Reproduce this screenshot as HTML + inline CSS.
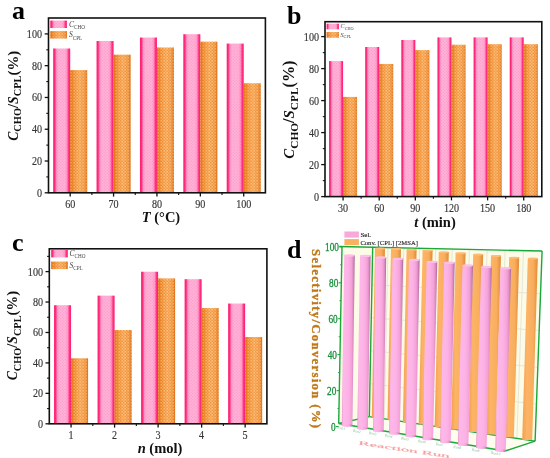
<!DOCTYPE html>
<html><head><meta charset="utf-8"><style>
html,body{margin:0;padding:0;background:#fff;}
body{width:550px;height:458px;overflow:hidden;}
svg{display:block;font-family:"Liberation Serif", serif;filter:blur(0.4px);}
</style></head><body>
<svg width="550" height="458" viewBox="0 0 550 458">
<defs>
<linearGradient id="pinkG" x1="0" y1="0" x2="1" y2="0">
<stop offset="0" stop-color="#ff1a6c"/><stop offset="0.09" stop-color="#ff2a7a"/><stop offset="0.2" stop-color="#ff9ccb"/><stop offset="0.32" stop-color="#ffb4d9"/><stop offset="0.68" stop-color="#ffb4d9"/><stop offset="0.8" stop-color="#ff9ccb"/><stop offset="0.91" stop-color="#ff3080"/><stop offset="1" stop-color="#ff1a6c"/>
</linearGradient>
<pattern id="pinkP" width="3" height="3" patternUnits="userSpaceOnUse">
<circle cx="0.75" cy="0.75" r="0.75" fill="#ff3d87" opacity="0.2"/><circle cx="2.25" cy="2.25" r="0.75" fill="#ff3d87" opacity="0.2"/>
</pattern>
<linearGradient id="orgG" x1="0" y1="0" x2="1" y2="0">
<stop offset="0" stop-color="#e06810"/><stop offset="0.1" stop-color="#ec8228"/><stop offset="0.3" stop-color="#f8a24e"/><stop offset="0.55" stop-color="#fdb66c"/><stop offset="0.85" stop-color="#f4a252"/><stop offset="1" stop-color="#dc6c14"/>
</linearGradient>
<pattern id="orgP" width="3" height="3" patternUnits="userSpaceOnUse">
<rect width="1.5" height="1.5" fill="#e27818" opacity="0.4"/><rect x="1.5" y="1.5" width="1.5" height="1.5" fill="#e27818" opacity="0.4"/><rect x="1.5" width="1.5" height="1.5" fill="#ffd6a6" opacity="0.35"/>
</pattern>
<linearGradient id="dPink" x1="0" y1="0" x2="1" y2="0">
<stop offset="0" stop-color="#e49ac8"/><stop offset="0.12" stop-color="#ffb8ea"/><stop offset="0.5" stop-color="#fcb2e4"/><stop offset="0.74" stop-color="#f5a2d8"/><stop offset="0.87" stop-color="#dc8cc4"/><stop offset="1" stop-color="#aa6898"/>
</linearGradient>
<linearGradient id="dOrg" x1="0" y1="0" x2="1" y2="0">
<stop offset="0" stop-color="#f3a050"/><stop offset="0.3" stop-color="#fcb466"/><stop offset="0.7" stop-color="#f9ae5e"/><stop offset="1" stop-color="#e08a36"/>
</linearGradient>
</defs>
<rect width="550" height="458" fill="#fff"/>

<rect x="53.19" y="48.52" width="17.00" height="144.28" fill="url(#pinkG)"/>
<rect x="53.19" y="48.52" width="17.00" height="144.28" fill="url(#pinkP)"/>
<rect x="70.19" y="70.13" width="17.00" height="122.67" fill="url(#orgG)"/>
<rect x="70.19" y="70.13" width="17.00" height="122.67" fill="url(#orgP)"/>
<rect x="96.57" y="41.05" width="17.00" height="151.75" fill="url(#pinkG)"/>
<rect x="96.57" y="41.05" width="17.00" height="151.75" fill="url(#pinkP)"/>
<rect x="113.57" y="54.72" width="17.00" height="138.08" fill="url(#orgG)"/>
<rect x="113.57" y="54.72" width="17.00" height="138.08" fill="url(#orgP)"/>
<rect x="139.95" y="37.55" width="17.00" height="155.25" fill="url(#pinkG)"/>
<rect x="139.95" y="37.55" width="17.00" height="155.25" fill="url(#pinkP)"/>
<rect x="156.95" y="47.57" width="17.00" height="145.23" fill="url(#orgG)"/>
<rect x="156.95" y="47.57" width="17.00" height="145.23" fill="url(#orgP)"/>
<rect x="183.33" y="34.22" width="17.00" height="158.58" fill="url(#pinkG)"/>
<rect x="183.33" y="34.22" width="17.00" height="158.58" fill="url(#pinkP)"/>
<rect x="200.33" y="41.69" width="17.00" height="151.11" fill="url(#orgG)"/>
<rect x="200.33" y="41.69" width="17.00" height="151.11" fill="url(#orgP)"/>
<rect x="226.71" y="43.59" width="17.00" height="149.21" fill="url(#pinkG)"/>
<rect x="226.71" y="43.59" width="17.00" height="149.21" fill="url(#pinkP)"/>
<rect x="243.71" y="83.32" width="17.00" height="109.48" fill="url(#orgG)"/>
<rect x="243.71" y="83.32" width="17.00" height="109.48" fill="url(#orgP)"/>
<rect x="50.3" y="20.6" width="16.6" height="7.4" fill="url(#pinkG)"/><rect x="50.3" y="20.6" width="16.6" height="7.4" fill="url(#pinkP)"/>
<rect x="50.3" y="31.1" width="16.6" height="7.4" fill="url(#orgG)"/><rect x="50.3" y="31.1" width="16.6" height="7.4" fill="url(#orgP)"/>
<text x="69" y="26.8" font-size="7.6" fill="#444"><tspan font-style="italic">C</tspan><tspan font-size="5.17" dy="2.28">CHO</tspan></text>
<text x="69" y="37.3" font-size="7.6" fill="#444"><tspan font-style="italic">S</tspan><tspan font-size="5.17" dy="2.28">CPL</tspan></text>
<rect x="48.5" y="18" width="216.89999999999998" height="174.8" fill="none" stroke="#111" stroke-width="1.6"/>
<line x1="44.7" y1="192.80" x2="48.5" y2="192.80" stroke="#111" stroke-width="1.3"/>
<text x="42" y="196.70" font-size="11.5" fill="#333" stroke="#333" stroke-width="0.15" text-anchor="end" textLength="5.05" lengthAdjust="spacingAndGlyphs">0</text>
<line x1="46.3" y1="176.91" x2="48.5" y2="176.91" stroke="#111" stroke-width="1.1"/>
<line x1="44.7" y1="161.02" x2="48.5" y2="161.02" stroke="#111" stroke-width="1.3"/>
<text x="42" y="164.92" font-size="11.5" fill="#333" stroke="#333" stroke-width="0.15" text-anchor="end" textLength="10.10" lengthAdjust="spacingAndGlyphs">20</text>
<line x1="46.3" y1="145.13" x2="48.5" y2="145.13" stroke="#111" stroke-width="1.1"/>
<line x1="44.7" y1="129.24" x2="48.5" y2="129.24" stroke="#111" stroke-width="1.3"/>
<text x="42" y="133.14" font-size="11.5" fill="#333" stroke="#333" stroke-width="0.15" text-anchor="end" textLength="10.10" lengthAdjust="spacingAndGlyphs">40</text>
<line x1="46.3" y1="113.35" x2="48.5" y2="113.35" stroke="#111" stroke-width="1.1"/>
<line x1="44.7" y1="97.46" x2="48.5" y2="97.46" stroke="#111" stroke-width="1.3"/>
<text x="42" y="101.36" font-size="11.5" fill="#333" stroke="#333" stroke-width="0.15" text-anchor="end" textLength="10.10" lengthAdjust="spacingAndGlyphs">60</text>
<line x1="46.3" y1="81.57" x2="48.5" y2="81.57" stroke="#111" stroke-width="1.1"/>
<line x1="44.7" y1="65.68" x2="48.5" y2="65.68" stroke="#111" stroke-width="1.3"/>
<text x="42" y="69.58" font-size="11.5" fill="#333" stroke="#333" stroke-width="0.15" text-anchor="end" textLength="10.10" lengthAdjust="spacingAndGlyphs">80</text>
<line x1="46.3" y1="49.79" x2="48.5" y2="49.79" stroke="#111" stroke-width="1.1"/>
<line x1="44.7" y1="33.90" x2="48.5" y2="33.90" stroke="#111" stroke-width="1.3"/>
<text x="42" y="37.80" font-size="11.5" fill="#333" stroke="#333" stroke-width="0.15" text-anchor="end" textLength="15.15" lengthAdjust="spacingAndGlyphs">100</text>
<line x1="70.19" y1="192.8" x2="70.19" y2="196.60000000000002" stroke="#111" stroke-width="1.3"/>
<text x="70.19" y="208" font-size="11.5" fill="#333" stroke="#333" stroke-width="0.15" text-anchor="middle" textLength="10.10" lengthAdjust="spacingAndGlyphs">60</text>
<line x1="113.57" y1="192.8" x2="113.57" y2="196.60000000000002" stroke="#111" stroke-width="1.3"/>
<text x="113.57" y="208" font-size="11.5" fill="#333" stroke="#333" stroke-width="0.15" text-anchor="middle" textLength="10.10" lengthAdjust="spacingAndGlyphs">70</text>
<line x1="91.88" y1="192.8" x2="91.88" y2="195.0" stroke="#111" stroke-width="1.1"/>
<line x1="156.95" y1="192.8" x2="156.95" y2="196.60000000000002" stroke="#111" stroke-width="1.3"/>
<text x="156.95" y="208" font-size="11.5" fill="#333" stroke="#333" stroke-width="0.15" text-anchor="middle" textLength="10.10" lengthAdjust="spacingAndGlyphs">80</text>
<line x1="135.26" y1="192.8" x2="135.26" y2="195.0" stroke="#111" stroke-width="1.1"/>
<line x1="200.33" y1="192.8" x2="200.33" y2="196.60000000000002" stroke="#111" stroke-width="1.3"/>
<text x="200.33" y="208" font-size="11.5" fill="#333" stroke="#333" stroke-width="0.15" text-anchor="middle" textLength="10.10" lengthAdjust="spacingAndGlyphs">90</text>
<line x1="178.64" y1="192.8" x2="178.64" y2="195.0" stroke="#111" stroke-width="1.1"/>
<line x1="243.71" y1="192.8" x2="243.71" y2="196.60000000000002" stroke="#111" stroke-width="1.3"/>
<text x="243.71" y="208" font-size="11.5" fill="#333" stroke="#333" stroke-width="0.15" text-anchor="middle" textLength="15.15" lengthAdjust="spacingAndGlyphs">100</text>
<line x1="222.02" y1="192.8" x2="222.02" y2="195.0" stroke="#111" stroke-width="1.1"/>
<text x="12" y="18.5" font-size="26" font-weight="bold" fill="#000">a</text>
<text x="161" y="221.5" font-size="14.5" font-weight="bold" fill="#111" text-anchor="middle"><tspan font-style="italic">T</tspan> (°C)</text>
<text transform="translate(17.5,95.8) rotate(-90)" font-size="14.85" font-weight="bold" fill="#111" text-anchor="middle"><tspan font-style="italic" font-size="13.66">C</tspan><tspan font-size="10.39" dy="3.86">CHO</tspan><tspan dy="-3.86">/</tspan><tspan font-style="italic" font-size="13.66">S</tspan><tspan font-size="10.39" dy="3.86">CPL</tspan><tspan dy="-3.86">(%)</tspan></text>
<rect x="329.07" y="61.08" width="14.00" height="135.52" fill="url(#pinkG)"/>
<rect x="329.07" y="61.08" width="14.00" height="135.52" fill="url(#pinkP)"/>
<rect x="343.07" y="96.92" width="14.00" height="99.68" fill="url(#orgG)"/>
<rect x="343.07" y="96.92" width="14.00" height="99.68" fill="url(#orgP)"/>
<rect x="365.20" y="47.00" width="14.00" height="149.60" fill="url(#pinkG)"/>
<rect x="365.20" y="47.00" width="14.00" height="149.60" fill="url(#pinkP)"/>
<rect x="379.20" y="63.96" width="14.00" height="132.64" fill="url(#orgG)"/>
<rect x="379.20" y="63.96" width="14.00" height="132.64" fill="url(#orgP)"/>
<rect x="401.33" y="39.96" width="14.00" height="156.64" fill="url(#pinkG)"/>
<rect x="401.33" y="39.96" width="14.00" height="156.64" fill="url(#pinkP)"/>
<rect x="415.33" y="50.20" width="14.00" height="146.40" fill="url(#orgG)"/>
<rect x="415.33" y="50.20" width="14.00" height="146.40" fill="url(#orgP)"/>
<rect x="437.47" y="37.40" width="14.00" height="159.20" fill="url(#pinkG)"/>
<rect x="437.47" y="37.40" width="14.00" height="159.20" fill="url(#pinkP)"/>
<rect x="451.47" y="44.76" width="14.00" height="151.84" fill="url(#orgG)"/>
<rect x="451.47" y="44.76" width="14.00" height="151.84" fill="url(#orgP)"/>
<rect x="473.60" y="37.40" width="14.00" height="159.20" fill="url(#pinkG)"/>
<rect x="473.60" y="37.40" width="14.00" height="159.20" fill="url(#pinkP)"/>
<rect x="487.60" y="44.28" width="14.00" height="152.32" fill="url(#orgG)"/>
<rect x="487.60" y="44.28" width="14.00" height="152.32" fill="url(#orgP)"/>
<rect x="509.73" y="37.40" width="14.00" height="159.20" fill="url(#pinkG)"/>
<rect x="509.73" y="37.40" width="14.00" height="159.20" fill="url(#pinkP)"/>
<rect x="523.73" y="44.28" width="14.00" height="152.32" fill="url(#orgG)"/>
<rect x="523.73" y="44.28" width="14.00" height="152.32" fill="url(#orgP)"/>
<rect x="326.6" y="23.7" width="12.3" height="5.6" fill="url(#pinkG)"/><rect x="326.6" y="23.7" width="12.3" height="5.6" fill="url(#pinkP)"/>
<rect x="326.6" y="32.1" width="12.3" height="5.6" fill="url(#orgG)"/><rect x="326.6" y="32.1" width="12.3" height="5.6" fill="url(#orgP)"/>
<text x="340.5" y="28.099999999999998" font-size="6.2" fill="#444"><tspan font-style="italic">C</tspan><tspan font-size="4.22" dy="1.86">CHO</tspan></text>
<text x="340.5" y="36.5" font-size="6.2" fill="#444"><tspan font-style="italic">S</tspan><tspan font-size="4.22" dy="1.86">CPL</tspan></text>
<rect x="325" y="21.7" width="216.79999999999995" height="174.9" fill="none" stroke="#111" stroke-width="1.6"/>
<line x1="321.2" y1="196.60" x2="325" y2="196.60" stroke="#111" stroke-width="1.3"/>
<text x="319" y="200.50" font-size="11.5" fill="#333" stroke="#333" stroke-width="0.15" text-anchor="end" textLength="5.05" lengthAdjust="spacingAndGlyphs">0</text>
<line x1="322.8" y1="180.60" x2="325" y2="180.60" stroke="#111" stroke-width="1.1"/>
<line x1="321.2" y1="164.60" x2="325" y2="164.60" stroke="#111" stroke-width="1.3"/>
<text x="319" y="168.50" font-size="11.5" fill="#333" stroke="#333" stroke-width="0.15" text-anchor="end" textLength="10.10" lengthAdjust="spacingAndGlyphs">20</text>
<line x1="322.8" y1="148.60" x2="325" y2="148.60" stroke="#111" stroke-width="1.1"/>
<line x1="321.2" y1="132.60" x2="325" y2="132.60" stroke="#111" stroke-width="1.3"/>
<text x="319" y="136.50" font-size="11.5" fill="#333" stroke="#333" stroke-width="0.15" text-anchor="end" textLength="10.10" lengthAdjust="spacingAndGlyphs">40</text>
<line x1="322.8" y1="116.60" x2="325" y2="116.60" stroke="#111" stroke-width="1.1"/>
<line x1="321.2" y1="100.60" x2="325" y2="100.60" stroke="#111" stroke-width="1.3"/>
<text x="319" y="104.50" font-size="11.5" fill="#333" stroke="#333" stroke-width="0.15" text-anchor="end" textLength="10.10" lengthAdjust="spacingAndGlyphs">60</text>
<line x1="322.8" y1="84.60" x2="325" y2="84.60" stroke="#111" stroke-width="1.1"/>
<line x1="321.2" y1="68.60" x2="325" y2="68.60" stroke="#111" stroke-width="1.3"/>
<text x="319" y="72.50" font-size="11.5" fill="#333" stroke="#333" stroke-width="0.15" text-anchor="end" textLength="10.10" lengthAdjust="spacingAndGlyphs">80</text>
<line x1="322.8" y1="52.60" x2="325" y2="52.60" stroke="#111" stroke-width="1.1"/>
<line x1="321.2" y1="36.60" x2="325" y2="36.60" stroke="#111" stroke-width="1.3"/>
<text x="319" y="40.50" font-size="11.5" fill="#333" stroke="#333" stroke-width="0.15" text-anchor="end" textLength="15.15" lengthAdjust="spacingAndGlyphs">100</text>
<line x1="343.07" y1="196.6" x2="343.07" y2="200.4" stroke="#111" stroke-width="1.3"/>
<text x="343.07" y="212" font-size="11.5" fill="#333" stroke="#333" stroke-width="0.15" text-anchor="middle" textLength="10.10" lengthAdjust="spacingAndGlyphs">30</text>
<line x1="379.20" y1="196.6" x2="379.20" y2="200.4" stroke="#111" stroke-width="1.3"/>
<text x="379.20" y="212" font-size="11.5" fill="#333" stroke="#333" stroke-width="0.15" text-anchor="middle" textLength="10.10" lengthAdjust="spacingAndGlyphs">60</text>
<line x1="361.13" y1="196.6" x2="361.13" y2="198.79999999999998" stroke="#111" stroke-width="1.1"/>
<line x1="415.33" y1="196.6" x2="415.33" y2="200.4" stroke="#111" stroke-width="1.3"/>
<text x="415.33" y="212" font-size="11.5" fill="#333" stroke="#333" stroke-width="0.15" text-anchor="middle" textLength="10.10" lengthAdjust="spacingAndGlyphs">90</text>
<line x1="397.27" y1="196.6" x2="397.27" y2="198.79999999999998" stroke="#111" stroke-width="1.1"/>
<line x1="451.47" y1="196.6" x2="451.47" y2="200.4" stroke="#111" stroke-width="1.3"/>
<text x="451.47" y="212" font-size="11.5" fill="#333" stroke="#333" stroke-width="0.15" text-anchor="middle" textLength="15.15" lengthAdjust="spacingAndGlyphs">120</text>
<line x1="433.40" y1="196.6" x2="433.40" y2="198.79999999999998" stroke="#111" stroke-width="1.1"/>
<line x1="487.60" y1="196.6" x2="487.60" y2="200.4" stroke="#111" stroke-width="1.3"/>
<text x="487.60" y="212" font-size="11.5" fill="#333" stroke="#333" stroke-width="0.15" text-anchor="middle" textLength="15.15" lengthAdjust="spacingAndGlyphs">150</text>
<line x1="469.53" y1="196.6" x2="469.53" y2="198.79999999999998" stroke="#111" stroke-width="1.1"/>
<line x1="523.73" y1="196.6" x2="523.73" y2="200.4" stroke="#111" stroke-width="1.3"/>
<text x="523.73" y="212" font-size="11.5" fill="#333" stroke="#333" stroke-width="0.15" text-anchor="middle" textLength="15.15" lengthAdjust="spacingAndGlyphs">180</text>
<line x1="505.67" y1="196.6" x2="505.67" y2="198.79999999999998" stroke="#111" stroke-width="1.1"/>
<text x="287" y="23.5" font-size="26" font-weight="bold" fill="#000">b</text>
<text x="435" y="227.2" font-size="14.5" font-weight="bold" fill="#111" text-anchor="middle"><tspan font-style="italic">t</tspan> (min)</text>
<text transform="translate(294.0,109.6) rotate(-90)" font-size="16.2" font-weight="bold" fill="#111" text-anchor="middle"><tspan font-style="italic" font-size="14.90">C</tspan><tspan font-size="11.34" dy="4.21">CHO</tspan><tspan dy="-4.21">/</tspan><tspan font-style="italic" font-size="14.90">S</tspan><tspan font-size="11.34" dy="4.21">CPL</tspan><tspan dy="-4.21">(%)</tspan></text>
<rect x="54.06" y="305.24" width="17.00" height="118.56" fill="url(#pinkG)"/>
<rect x="54.06" y="305.24" width="17.00" height="118.56" fill="url(#pinkP)"/>
<rect x="71.06" y="358.35" width="17.00" height="65.45" fill="url(#orgG)"/>
<rect x="71.06" y="358.35" width="17.00" height="65.45" fill="url(#orgP)"/>
<rect x="97.58" y="295.65" width="17.00" height="128.15" fill="url(#pinkG)"/>
<rect x="97.58" y="295.65" width="17.00" height="128.15" fill="url(#pinkP)"/>
<rect x="114.58" y="330.04" width="17.00" height="93.76" fill="url(#orgG)"/>
<rect x="114.58" y="330.04" width="17.00" height="93.76" fill="url(#orgP)"/>
<rect x="141.10" y="271.75" width="17.00" height="152.05" fill="url(#pinkG)"/>
<rect x="141.10" y="271.75" width="17.00" height="152.05" fill="url(#pinkP)"/>
<rect x="158.10" y="278.45" width="17.00" height="145.35" fill="url(#orgG)"/>
<rect x="158.10" y="278.45" width="17.00" height="145.35" fill="url(#orgP)"/>
<rect x="184.62" y="279.21" width="17.00" height="144.59" fill="url(#pinkG)"/>
<rect x="184.62" y="279.21" width="17.00" height="144.59" fill="url(#pinkP)"/>
<rect x="201.62" y="308.13" width="17.00" height="115.67" fill="url(#orgG)"/>
<rect x="201.62" y="308.13" width="17.00" height="115.67" fill="url(#orgP)"/>
<rect x="228.14" y="303.56" width="17.00" height="120.24" fill="url(#pinkG)"/>
<rect x="228.14" y="303.56" width="17.00" height="120.24" fill="url(#pinkP)"/>
<rect x="245.14" y="337.05" width="17.00" height="86.75" fill="url(#orgG)"/>
<rect x="245.14" y="337.05" width="17.00" height="86.75" fill="url(#orgP)"/>
<rect x="51.2" y="249.9" width="16.6" height="7.5" fill="url(#pinkG)"/><rect x="51.2" y="249.9" width="16.6" height="7.5" fill="url(#pinkP)"/>
<rect x="51.2" y="261.6" width="16.6" height="7.5" fill="url(#orgG)"/><rect x="51.2" y="261.6" width="16.6" height="7.5" fill="url(#orgP)"/>
<text x="69.5" y="256.2" font-size="7.6" fill="#444"><tspan font-style="italic">C</tspan><tspan font-size="5.17" dy="2.28">CHO</tspan></text>
<text x="69.5" y="267.90000000000003" font-size="7.6" fill="#444"><tspan font-style="italic">S</tspan><tspan font-size="5.17" dy="2.28">CPL</tspan></text>
<rect x="49.3" y="248.8" width="217.59999999999997" height="175.0" fill="none" stroke="#111" stroke-width="1.6"/>
<line x1="45.5" y1="423.80" x2="49.3" y2="423.80" stroke="#111" stroke-width="1.3"/>
<text x="43" y="427.70" font-size="11.5" fill="#333" stroke="#333" stroke-width="0.15" text-anchor="end" textLength="5.05" lengthAdjust="spacingAndGlyphs">0</text>
<line x1="47.099999999999994" y1="408.58" x2="49.3" y2="408.58" stroke="#111" stroke-width="1.1"/>
<line x1="45.5" y1="393.36" x2="49.3" y2="393.36" stroke="#111" stroke-width="1.3"/>
<text x="43" y="397.26" font-size="11.5" fill="#333" stroke="#333" stroke-width="0.15" text-anchor="end" textLength="10.10" lengthAdjust="spacingAndGlyphs">20</text>
<line x1="47.099999999999994" y1="378.14" x2="49.3" y2="378.14" stroke="#111" stroke-width="1.1"/>
<line x1="45.5" y1="362.92" x2="49.3" y2="362.92" stroke="#111" stroke-width="1.3"/>
<text x="43" y="366.82" font-size="11.5" fill="#333" stroke="#333" stroke-width="0.15" text-anchor="end" textLength="10.10" lengthAdjust="spacingAndGlyphs">40</text>
<line x1="47.099999999999994" y1="347.70" x2="49.3" y2="347.70" stroke="#111" stroke-width="1.1"/>
<line x1="45.5" y1="332.48" x2="49.3" y2="332.48" stroke="#111" stroke-width="1.3"/>
<text x="43" y="336.38" font-size="11.5" fill="#333" stroke="#333" stroke-width="0.15" text-anchor="end" textLength="10.10" lengthAdjust="spacingAndGlyphs">60</text>
<line x1="47.099999999999994" y1="317.26" x2="49.3" y2="317.26" stroke="#111" stroke-width="1.1"/>
<line x1="45.5" y1="302.04" x2="49.3" y2="302.04" stroke="#111" stroke-width="1.3"/>
<text x="43" y="305.94" font-size="11.5" fill="#333" stroke="#333" stroke-width="0.15" text-anchor="end" textLength="10.10" lengthAdjust="spacingAndGlyphs">80</text>
<line x1="47.099999999999994" y1="286.82" x2="49.3" y2="286.82" stroke="#111" stroke-width="1.1"/>
<line x1="45.5" y1="271.60" x2="49.3" y2="271.60" stroke="#111" stroke-width="1.3"/>
<text x="43" y="275.50" font-size="11.5" fill="#333" stroke="#333" stroke-width="0.15" text-anchor="end" textLength="15.15" lengthAdjust="spacingAndGlyphs">100</text>
<line x1="47.099999999999994" y1="256.38" x2="49.3" y2="256.38" stroke="#111" stroke-width="1.1"/>
<line x1="71.06" y1="423.8" x2="71.06" y2="427.6" stroke="#111" stroke-width="1.3"/>
<text x="71.06" y="439" font-size="11.5" fill="#333" stroke="#333" stroke-width="0.15" text-anchor="middle" textLength="5.05" lengthAdjust="spacingAndGlyphs">1</text>
<line x1="114.58" y1="423.8" x2="114.58" y2="427.6" stroke="#111" stroke-width="1.3"/>
<text x="114.58" y="439" font-size="11.5" fill="#333" stroke="#333" stroke-width="0.15" text-anchor="middle" textLength="5.05" lengthAdjust="spacingAndGlyphs">2</text>
<line x1="92.82" y1="423.8" x2="92.82" y2="426.0" stroke="#111" stroke-width="1.1"/>
<line x1="158.10" y1="423.8" x2="158.10" y2="427.6" stroke="#111" stroke-width="1.3"/>
<text x="158.10" y="439" font-size="11.5" fill="#333" stroke="#333" stroke-width="0.15" text-anchor="middle" textLength="5.05" lengthAdjust="spacingAndGlyphs">3</text>
<line x1="136.34" y1="423.8" x2="136.34" y2="426.0" stroke="#111" stroke-width="1.1"/>
<line x1="201.62" y1="423.8" x2="201.62" y2="427.6" stroke="#111" stroke-width="1.3"/>
<text x="201.62" y="439" font-size="11.5" fill="#333" stroke="#333" stroke-width="0.15" text-anchor="middle" textLength="5.05" lengthAdjust="spacingAndGlyphs">4</text>
<line x1="179.86" y1="423.8" x2="179.86" y2="426.0" stroke="#111" stroke-width="1.1"/>
<line x1="245.14" y1="423.8" x2="245.14" y2="427.6" stroke="#111" stroke-width="1.3"/>
<text x="245.14" y="439" font-size="11.5" fill="#333" stroke="#333" stroke-width="0.15" text-anchor="middle" textLength="5.05" lengthAdjust="spacingAndGlyphs">5</text>
<line x1="223.38" y1="423.8" x2="223.38" y2="426.0" stroke="#111" stroke-width="1.1"/>
<text x="12" y="250.7" font-size="26" font-weight="bold" fill="#000">c</text>
<text x="160" y="453" font-size="14.5" font-weight="bold" fill="#111" text-anchor="middle"><tspan font-style="italic">n</tspan> (mol)</text>
<text transform="translate(17.3,335.6) rotate(-90)" font-size="14.75" font-weight="bold" fill="#111" text-anchor="middle"><tspan font-style="italic" font-size="13.57">C</tspan><tspan font-size="10.32" dy="3.83">CHO</tspan><tspan dy="-3.83">/</tspan><tspan font-style="italic" font-size="13.57">S</tspan><tspan font-size="10.32" dy="3.83">CPL</tspan><tspan dy="-3.83">(%)</tspan></text>
<polygon points="372.7,246.8 542.1,251.0 535.1,441.1 369.3,416.6" fill="#fcfbe8"/>
<polygon points="342.0,246.5 372.7,246.8 369.3,416.6 338.7,423.5" fill="#fcfbe8"/>
<polygon points="338.7,423.5 369.3,416.6 535.1,441.1 505.1,451.0" fill="#fdfcee"/>
<line x1="370.0" y1="383.7" x2="536.5" y2="404.2" stroke="#d8d8cc" stroke-width="0.6"/>
<line x1="370.6" y1="350.7" x2="537.8" y2="367.3" stroke="#d8d8cc" stroke-width="0.6"/>
<line x1="371.3" y1="317.8" x2="539.2" y2="330.5" stroke="#d8d8cc" stroke-width="0.6"/>
<line x1="371.9" y1="284.8" x2="540.5" y2="293.6" stroke="#d8d8cc" stroke-width="0.6"/>
<line x1="388.0" y1="247.2" x2="384.3" y2="418.8" stroke="#d8d8cc" stroke-width="0.6"/>
<line x1="403.8" y1="247.6" x2="399.7" y2="421.1" stroke="#d8d8cc" stroke-width="0.6"/>
<line x1="419.6" y1="248.0" x2="415.2" y2="423.4" stroke="#d8d8cc" stroke-width="0.6"/>
<line x1="435.7" y1="248.4" x2="431.0" y2="425.7" stroke="#d8d8cc" stroke-width="0.6"/>
<line x1="452.2" y1="248.8" x2="447.1" y2="428.1" stroke="#d8d8cc" stroke-width="0.6"/>
<line x1="469.4" y1="249.2" x2="463.9" y2="430.6" stroke="#d8d8cc" stroke-width="0.6"/>
<line x1="487.1" y1="249.6" x2="481.3" y2="433.1" stroke="#d8d8cc" stroke-width="0.6"/>
<line x1="505.1" y1="250.1" x2="498.9" y2="435.7" stroke="#d8d8cc" stroke-width="0.6"/>
<line x1="523.5" y1="250.5" x2="516.9" y2="438.4" stroke="#d8d8cc" stroke-width="0.6"/>
<line x1="339.3" y1="246.5" x2="542.1" y2="251.0" stroke="#1aa83a" stroke-width="1.4"/>
<line x1="342.0" y1="246.5" x2="338.7" y2="423.5" stroke="#1aa83a" stroke-width="1.4"/>
<line x1="372.7" y1="246.8" x2="369.3" y2="416.6" stroke="#1aa83a" stroke-width="1.4"/>
<line x1="542.1" y1="251.0" x2="535.1" y2="441.1" stroke="#1aa83a" stroke-width="1.4"/>
<line x1="369.3" y1="416.6" x2="535.1" y2="441.1" stroke="#1aa83a" stroke-width="1.4"/>
<line x1="338.7" y1="423.5" x2="505.1" y2="451.0" stroke="#1aa83a" stroke-width="1.4"/>
<line x1="535.1" y1="441.1" x2="505.1" y2="451.0" stroke="#1aa83a" stroke-width="1.4"/>
<line x1="338.7" y1="423.5" x2="369.3" y2="416.6" stroke="#1aa83a" stroke-width="1.4"/>
<polygon points="375.0,248.0 385.0,248.0 381.8,417.7 371.8,417.7" fill="url(#dOrg)"/>
<ellipse cx="380.0" cy="248.4" rx="5.0" ry="1.0" fill="#fdbd74"/>
<polygon points="391.0,248.6 401.0,248.6 397.5,420.0 387.5,420.0" fill="url(#dOrg)"/>
<ellipse cx="396.0" cy="249.0" rx="5.0" ry="1.0" fill="#fdbd74"/>
<polygon points="406.6,249.4 416.6,249.4 412.9,422.3 402.9,422.3" fill="url(#dOrg)"/>
<ellipse cx="411.6" cy="249.8" rx="5.0" ry="1.0" fill="#fdbd74"/>
<polygon points="422.6,250.1 432.6,250.1 428.7,424.6 418.7,424.6" fill="url(#dOrg)"/>
<ellipse cx="427.6" cy="250.5" rx="5.0" ry="1.0" fill="#fdbd74"/>
<polygon points="438.8,251.9 448.8,251.9 444.6,427.0 434.6,427.0" fill="url(#dOrg)"/>
<ellipse cx="443.8" cy="252.3" rx="5.0" ry="1.0" fill="#fdbd74"/>
<polygon points="455.6,252.8 465.6,252.8 461.1,429.4 451.1,429.4" fill="url(#dOrg)"/>
<ellipse cx="460.6" cy="253.2" rx="5.0" ry="1.0" fill="#fdbd74"/>
<polygon points="473.2,254.1 483.2,254.1 478.5,432.0 468.5,432.0" fill="url(#dOrg)"/>
<ellipse cx="478.2" cy="254.5" rx="5.0" ry="1.0" fill="#fdbd74"/>
<polygon points="491.0,255.5 501.0,255.5 496.0,434.6 486.0,434.6" fill="url(#dOrg)"/>
<ellipse cx="496.0" cy="255.9" rx="5.0" ry="1.0" fill="#fdbd74"/>
<polygon points="509.2,257.3 519.2,257.3 513.9,437.2 503.9,437.2" fill="url(#dOrg)"/>
<ellipse cx="514.2" cy="257.7" rx="5.0" ry="1.0" fill="#fdbd74"/>
<polygon points="527.8,258.2 537.8,258.2 532.2,439.9 522.2,439.9" fill="url(#dOrg)"/>
<ellipse cx="532.8" cy="258.6" rx="5.0" ry="1.0" fill="#fdbd74"/>
<polygon points="344.2,255.0 354.8,255.0 352.4,425.5 341.8,425.5" fill="url(#dPink)"/>
<ellipse cx="347.1" cy="425.5" rx="5.3" ry="1.4" fill="url(#dPink)"/>
<ellipse cx="349.5" cy="255.5" rx="5.3" ry="1.2" fill="#fcc0e8"/>
<polygon points="360.0,255.4 370.6,255.4 367.9,428.6 357.3,428.6" fill="url(#dPink)"/>
<ellipse cx="362.6" cy="428.6" rx="5.3" ry="1.4" fill="url(#dPink)"/>
<ellipse cx="365.3" cy="255.9" rx="5.3" ry="1.2" fill="#fcc0e8"/>
<polygon points="375.6,257.0 386.2,257.0 383.7,430.8 373.1,430.8" fill="url(#dPink)"/>
<ellipse cx="378.4" cy="430.8" rx="5.3" ry="1.4" fill="url(#dPink)"/>
<ellipse cx="380.9" cy="257.5" rx="5.3" ry="1.2" fill="#fcc0e8"/>
<polygon points="392.6,258.4 403.2,258.4 399.7,433.4 389.1,433.4" fill="url(#dPink)"/>
<ellipse cx="394.4" cy="433.4" rx="5.3" ry="1.4" fill="url(#dPink)"/>
<ellipse cx="397.9" cy="258.9" rx="5.3" ry="1.2" fill="#fcc0e8"/>
<polygon points="409.0,259.5 419.6,259.5 416.1,436.1 405.5,436.1" fill="url(#dPink)"/>
<ellipse cx="410.8" cy="436.1" rx="5.3" ry="1.4" fill="url(#dPink)"/>
<ellipse cx="414.3" cy="260.0" rx="5.3" ry="1.2" fill="#fcc0e8"/>
<polygon points="426.7,261.4 437.3,261.4 433.1,438.9 422.5,438.9" fill="url(#dPink)"/>
<ellipse cx="427.8" cy="438.9" rx="5.3" ry="1.4" fill="url(#dPink)"/>
<ellipse cx="432.0" cy="261.9" rx="5.3" ry="1.2" fill="#fcc0e8"/>
<polygon points="444.1,262.3 454.7,262.3 450.7,441.9 440.1,441.9" fill="url(#dPink)"/>
<ellipse cx="445.4" cy="441.9" rx="5.3" ry="1.4" fill="url(#dPink)"/>
<ellipse cx="449.4" cy="262.8" rx="5.3" ry="1.2" fill="#fcc0e8"/>
<polygon points="462.5,265.0 473.1,265.0 468.4,444.7 457.8,444.7" fill="url(#dPink)"/>
<ellipse cx="463.1" cy="444.7" rx="5.3" ry="1.4" fill="url(#dPink)"/>
<ellipse cx="467.8" cy="265.5" rx="5.3" ry="1.2" fill="#fcc0e8"/>
<polygon points="481.2,266.5 491.8,266.5 486.6,447.6 476.0,447.6" fill="url(#dPink)"/>
<ellipse cx="481.3" cy="447.6" rx="5.3" ry="1.4" fill="url(#dPink)"/>
<ellipse cx="486.5" cy="267.0" rx="5.3" ry="1.2" fill="#fcc0e8"/>
<polygon points="500.5,267.7 511.1,267.7 505.8,450.6 495.2,450.6" fill="url(#dPink)"/>
<ellipse cx="500.5" cy="450.6" rx="5.3" ry="1.4" fill="url(#dPink)"/>
<ellipse cx="505.8" cy="268.2" rx="5.3" ry="1.2" fill="#fcc0e8"/>
<line x1="336.0" y1="426.5" x2="338.6" y2="426.5" stroke="#1aa83a" stroke-width="1.1"/>
<text transform="translate(335.6,430.5) scale(0.8,1)" font-size="11.6" fill="#17903a" stroke="#17903a" stroke-width="0.3" text-anchor="end">0</text>
<line x1="337.4" y1="408.5" x2="339.0" y2="408.5" stroke="#1aa83a" stroke-width="0.9"/>
<line x1="336.7" y1="390.6" x2="339.3" y2="390.6" stroke="#1aa83a" stroke-width="1.1"/>
<text transform="translate(336.3,394.6) scale(0.8,1)" font-size="11.6" fill="#17903a" stroke="#17903a" stroke-width="0.3" text-anchor="end">20</text>
<line x1="338.0" y1="372.6" x2="339.6" y2="372.6" stroke="#1aa83a" stroke-width="0.9"/>
<line x1="337.4" y1="354.6" x2="340.0" y2="354.6" stroke="#1aa83a" stroke-width="1.1"/>
<text transform="translate(337.0,358.6) scale(0.8,1)" font-size="11.6" fill="#17903a" stroke="#17903a" stroke-width="0.3" text-anchor="end">40</text>
<line x1="338.7" y1="336.7" x2="340.3" y2="336.7" stroke="#1aa83a" stroke-width="0.9"/>
<line x1="338.1" y1="318.7" x2="340.7" y2="318.7" stroke="#1aa83a" stroke-width="1.1"/>
<text transform="translate(337.7,322.7) scale(0.8,1)" font-size="11.6" fill="#17903a" stroke="#17903a" stroke-width="0.3" text-anchor="end">60</text>
<line x1="339.4" y1="300.7" x2="341.0" y2="300.7" stroke="#1aa83a" stroke-width="0.9"/>
<line x1="338.7" y1="282.8" x2="341.3" y2="282.8" stroke="#1aa83a" stroke-width="1.1"/>
<text transform="translate(338.3,286.8) scale(0.8,1)" font-size="11.6" fill="#17903a" stroke="#17903a" stroke-width="0.3" text-anchor="end">80</text>
<line x1="340.1" y1="264.8" x2="341.7" y2="264.8" stroke="#1aa83a" stroke-width="0.9"/>
<line x1="339.4" y1="246.8" x2="342.0" y2="246.8" stroke="#1aa83a" stroke-width="1.1"/>
<text transform="translate(339.0,250.8) scale(0.8,1)" font-size="11.6" fill="#17903a" stroke="#17903a" stroke-width="0.3" text-anchor="end">100</text>
<text transform="translate(312.2,338.6) rotate(90)" font-size="12.8" font-weight="bold" fill="#bf7818" stroke="#bf7818" stroke-width="0.35" text-anchor="middle" textLength="179" lengthAdjust="spacing">Selectivity/Conversion (%)</text>
<rect x="344.4" y="231.5" width="14.5" height="6.1" fill="#f9a8dc"/>
<rect x="344.4" y="239.1" width="14.5" height="6.1" fill="#f9b060"/>
<text x="360.4" y="237.4" font-size="7" fill="#333" stroke="#333" stroke-width="0.2">Sel.</text>
<text x="360.4" y="244.9" font-size="7" fill="#333" stroke="#333" stroke-width="0.2" textLength="57.5" lengthAdjust="spacingAndGlyphs">Conv. [CPL] [2MSA]</text>
<text x="287" y="257.5" font-size="26" font-weight="bold" fill="#000">d</text>
<text transform="translate(358.3,444.6) rotate(8.4)" font-size="5.6" fill="#f06868" fill-opacity="0.6" stroke="#f06868" stroke-opacity="0.25" stroke-width="0.3" textLength="92" lengthAdjust="spacingAndGlyphs">Reaction Run</text>
<text transform="translate(337.3,428.7) rotate(9)" font-size="3.6" fill="#4aa860" fill-opacity="0.7">Run1</text>
<text transform="translate(352.8,431.8) rotate(9)" font-size="3.6" fill="#4aa860" fill-opacity="0.7">Run2</text>
<text transform="translate(368.6,434.0) rotate(9)" font-size="3.6" fill="#4aa860" fill-opacity="0.7">Run3</text>
<text transform="translate(384.6,436.6) rotate(9)" font-size="3.6" fill="#4aa860" fill-opacity="0.7">Run4</text>
<text transform="translate(401.0,439.3) rotate(9)" font-size="3.6" fill="#4aa860" fill-opacity="0.7">Run5</text>
<text transform="translate(418.0,442.1) rotate(9)" font-size="3.6" fill="#4aa860" fill-opacity="0.7">Run6</text>
<text transform="translate(435.6,445.1) rotate(9)" font-size="3.6" fill="#4aa860" fill-opacity="0.7">Run7</text>
<text transform="translate(453.3,447.9) rotate(9)" font-size="3.6" fill="#4aa860" fill-opacity="0.7">Run8</text>
<text transform="translate(471.5,450.8) rotate(9)" font-size="3.6" fill="#4aa860" fill-opacity="0.7">Run9</text>
<text transform="translate(490.7,453.8) rotate(9)" font-size="3.6" fill="#4aa860" fill-opacity="0.7">Run10</text>
</svg></body></html>
